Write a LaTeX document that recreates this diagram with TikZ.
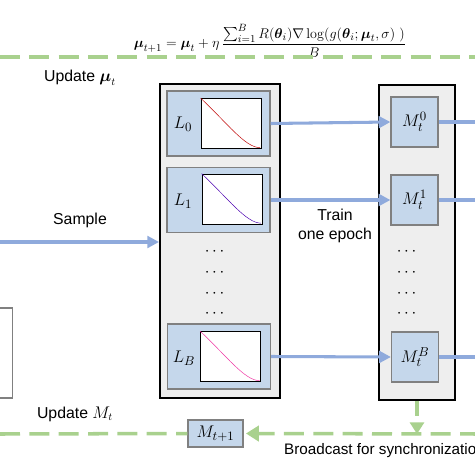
\documentclass[tikz,border=0pt]{standalone}
\usepackage{amsmath}
\usepackage[no-math]{fontspec}
\setmainfont{Liberation Sans}
\usetikzlibrary{arrows.meta}
\definecolor{boxblue}{RGB}{197,215,235}
\definecolor{flowblue}{RGB}{143,170,220}
\definecolor{syncgreen}{RGB}{169,209,142}
\definecolor{panelgray}{RGB}{238,238,238}

\begin{document}
\begin{tikzpicture}[x=0.03cm,y=-0.03cm,
  every node/.style={font=\fontsize{13.5}{16}\selectfont},
  big math/.style={font=\fontsize{15}{18}\selectfont},
  panel node/.style={rectangle,draw=black,line width=1.6pt,fill=panelgray},
  loss node/.style={rectangle,draw=gray,line width=1pt,fill=boxblue,minimum width=3.09cm,minimum height=1.95cm},
  plot node/.style={rectangle,draw=black,line width=0.6pt,fill=white,minimum width=1.8cm,minimum height=1.5cm},
  model node/.style={rectangle,draw=gray,line width=1pt,fill=boxblue,minimum width=1.41cm,minimum height=1.5cm,big math},
  flow/.style={draw=flowblue,line width=2.6pt,-{Triangle[length=10pt,width=10pt]}},
  sync/.style={draw=syncgreen,line width=3pt,dash pattern=on 0.6cm off 0.28cm}]

  \useasboundingbox (0,0) rectangle (474,474);

  % formula and update labels
  \node[font=\fontsize{13.2}{16}\selectfont] (rule) at (270,41) {$\displaystyle \boldsymbol{\mu}_{t+1}=\boldsymbol{\mu}_t+\eta\,\frac{\textstyle\sum_{i=1}^{B}R(\boldsymbol{\theta}_i)\nabla\log(g(\boldsymbol{\theta}_i;\boldsymbol{\mu}_t,\sigma)\ )}{B}$};
  \coordinate (topL) at (0,57);
  \coordinate (topR) at (480,57);
  \draw[sync] (topL) -- (topR);
  \node (upmu) at (80,78) {Update $\boldsymbol{\mu}_t$};

  % panels
  \node[panel node,minimum width=3.6cm,minimum height=9.42cm] (lpanel) at (220,241) {};
  \node[panel node,minimum width=2.28cm,minimum height=9.45cm] (mpanel) at (417,242.5) {};
  \node[rectangle,draw=gray,line width=1pt,minimum width=2cm,minimum height=2.7cm] (prev) at (-21,353) {};

  % losses
  \node[loss node] (L0) at (218.5,123.5) {};
  \node[loss node] (L1) at (218.5,200) {};
  \node[loss node] (LB) at (219,356.5) {};
  \node[plot node] (P0) at (231,123.5) {};
  \node[plot node] (P1) at (232,199) {};
  \node[plot node] (PB) at (230.5,356.5) {};
  \node[big math] (l0) at (183,124) {$L_0$};
  \node[big math] (l1) at (183,201) {$L_1$};
  \node[big math] (lb) at (184,358) {$L_B$};
  \draw[red!75!black] (P0.north west) .. controls +(0.8cm,-0.75cm) and +(-0.45cm,0cm) .. ([xshift=-1pt,yshift=1pt]P0.south east);
  \draw[blue!70!red] (P1.north west) .. controls +(0.8cm,-0.75cm) and +(-0.45cm,0cm) .. ([xshift=-1pt,yshift=1pt]P1.south east);
  \draw[magenta!80!white] (PB.north west) .. controls +(0.8cm,-0.75cm) and +(-0.45cm,0cm) .. ([xshift=-1pt,yshift=1pt]PB.south east);
  \foreach \y in {255,276,297,317} {
    \node at (216,\y-3) {$\cdots$};
    \node at (408,\y-3) {$\cdots$};
  }

  % models
  \node[model node] (M0) at (414.5,122) {$M_t^0$};
  \node[model node] (M1) at (414.5,200) {$M_t^1$};
  \node[model node] (MB) at (415,357) {$M_t^B$};
  \node[rectangle,draw=gray,line width=1pt,fill=boxblue,minimum width=1.65cm,minimum height=0.81cm,big math] (Mn) at (215.5,433.5) {$M_{t+1}$};

  % flows
  \coordinate (src) at (-5,242);
  \coordinate (out0) at (480,122);
  \coordinate (out1) at (480,200);
  \coordinate (outB) at (480,357);
  \draw[flow] (src) -- (lpanel.west |- src);
  \draw[flow] (L0.east) -- (M0.west);
  \draw[flow] (L1.east) -- (M1.west);
  \draw[flow] (LB.east) -- (MB.west);
  \draw[flowblue,line width=2.6pt] (M0.east) -- (out0);
  \draw[flowblue,line width=2.6pt] (M1.east) -- (out1);
  \draw[flowblue,line width=2.6pt] (MB.east) -- (outB);
  \node (sample) at (80,220) {Sample};
  \node[align=center] (train) at (335,226) {Train\\one epoch};

  % synchronization
  \coordinate (botL) at (0,434);
  \coordinate (botR) at (480,434);
  \coordinate (hit) at (417,434);
  \draw[sync] (botL) -- (Mn.west);
  \draw[sync,-{Triangle[length=11pt,width=13pt]},shorten >=2pt] (botR) -- (Mn.east);
  \draw[syncgreen,line width=3pt,dash pattern=on 0.45cm off 0.2cm,-{Triangle[length=10pt,width=12pt]}] (mpanel.south) -- (hit);
  \node (upM) at (75,414) {Update $M_t$};
  \node[anchor=west,font=\fontsize{13}{16}\selectfont] (bcast) at (280,451) {Broadcast for synchronization};
\end{tikzpicture}
\end{document}
